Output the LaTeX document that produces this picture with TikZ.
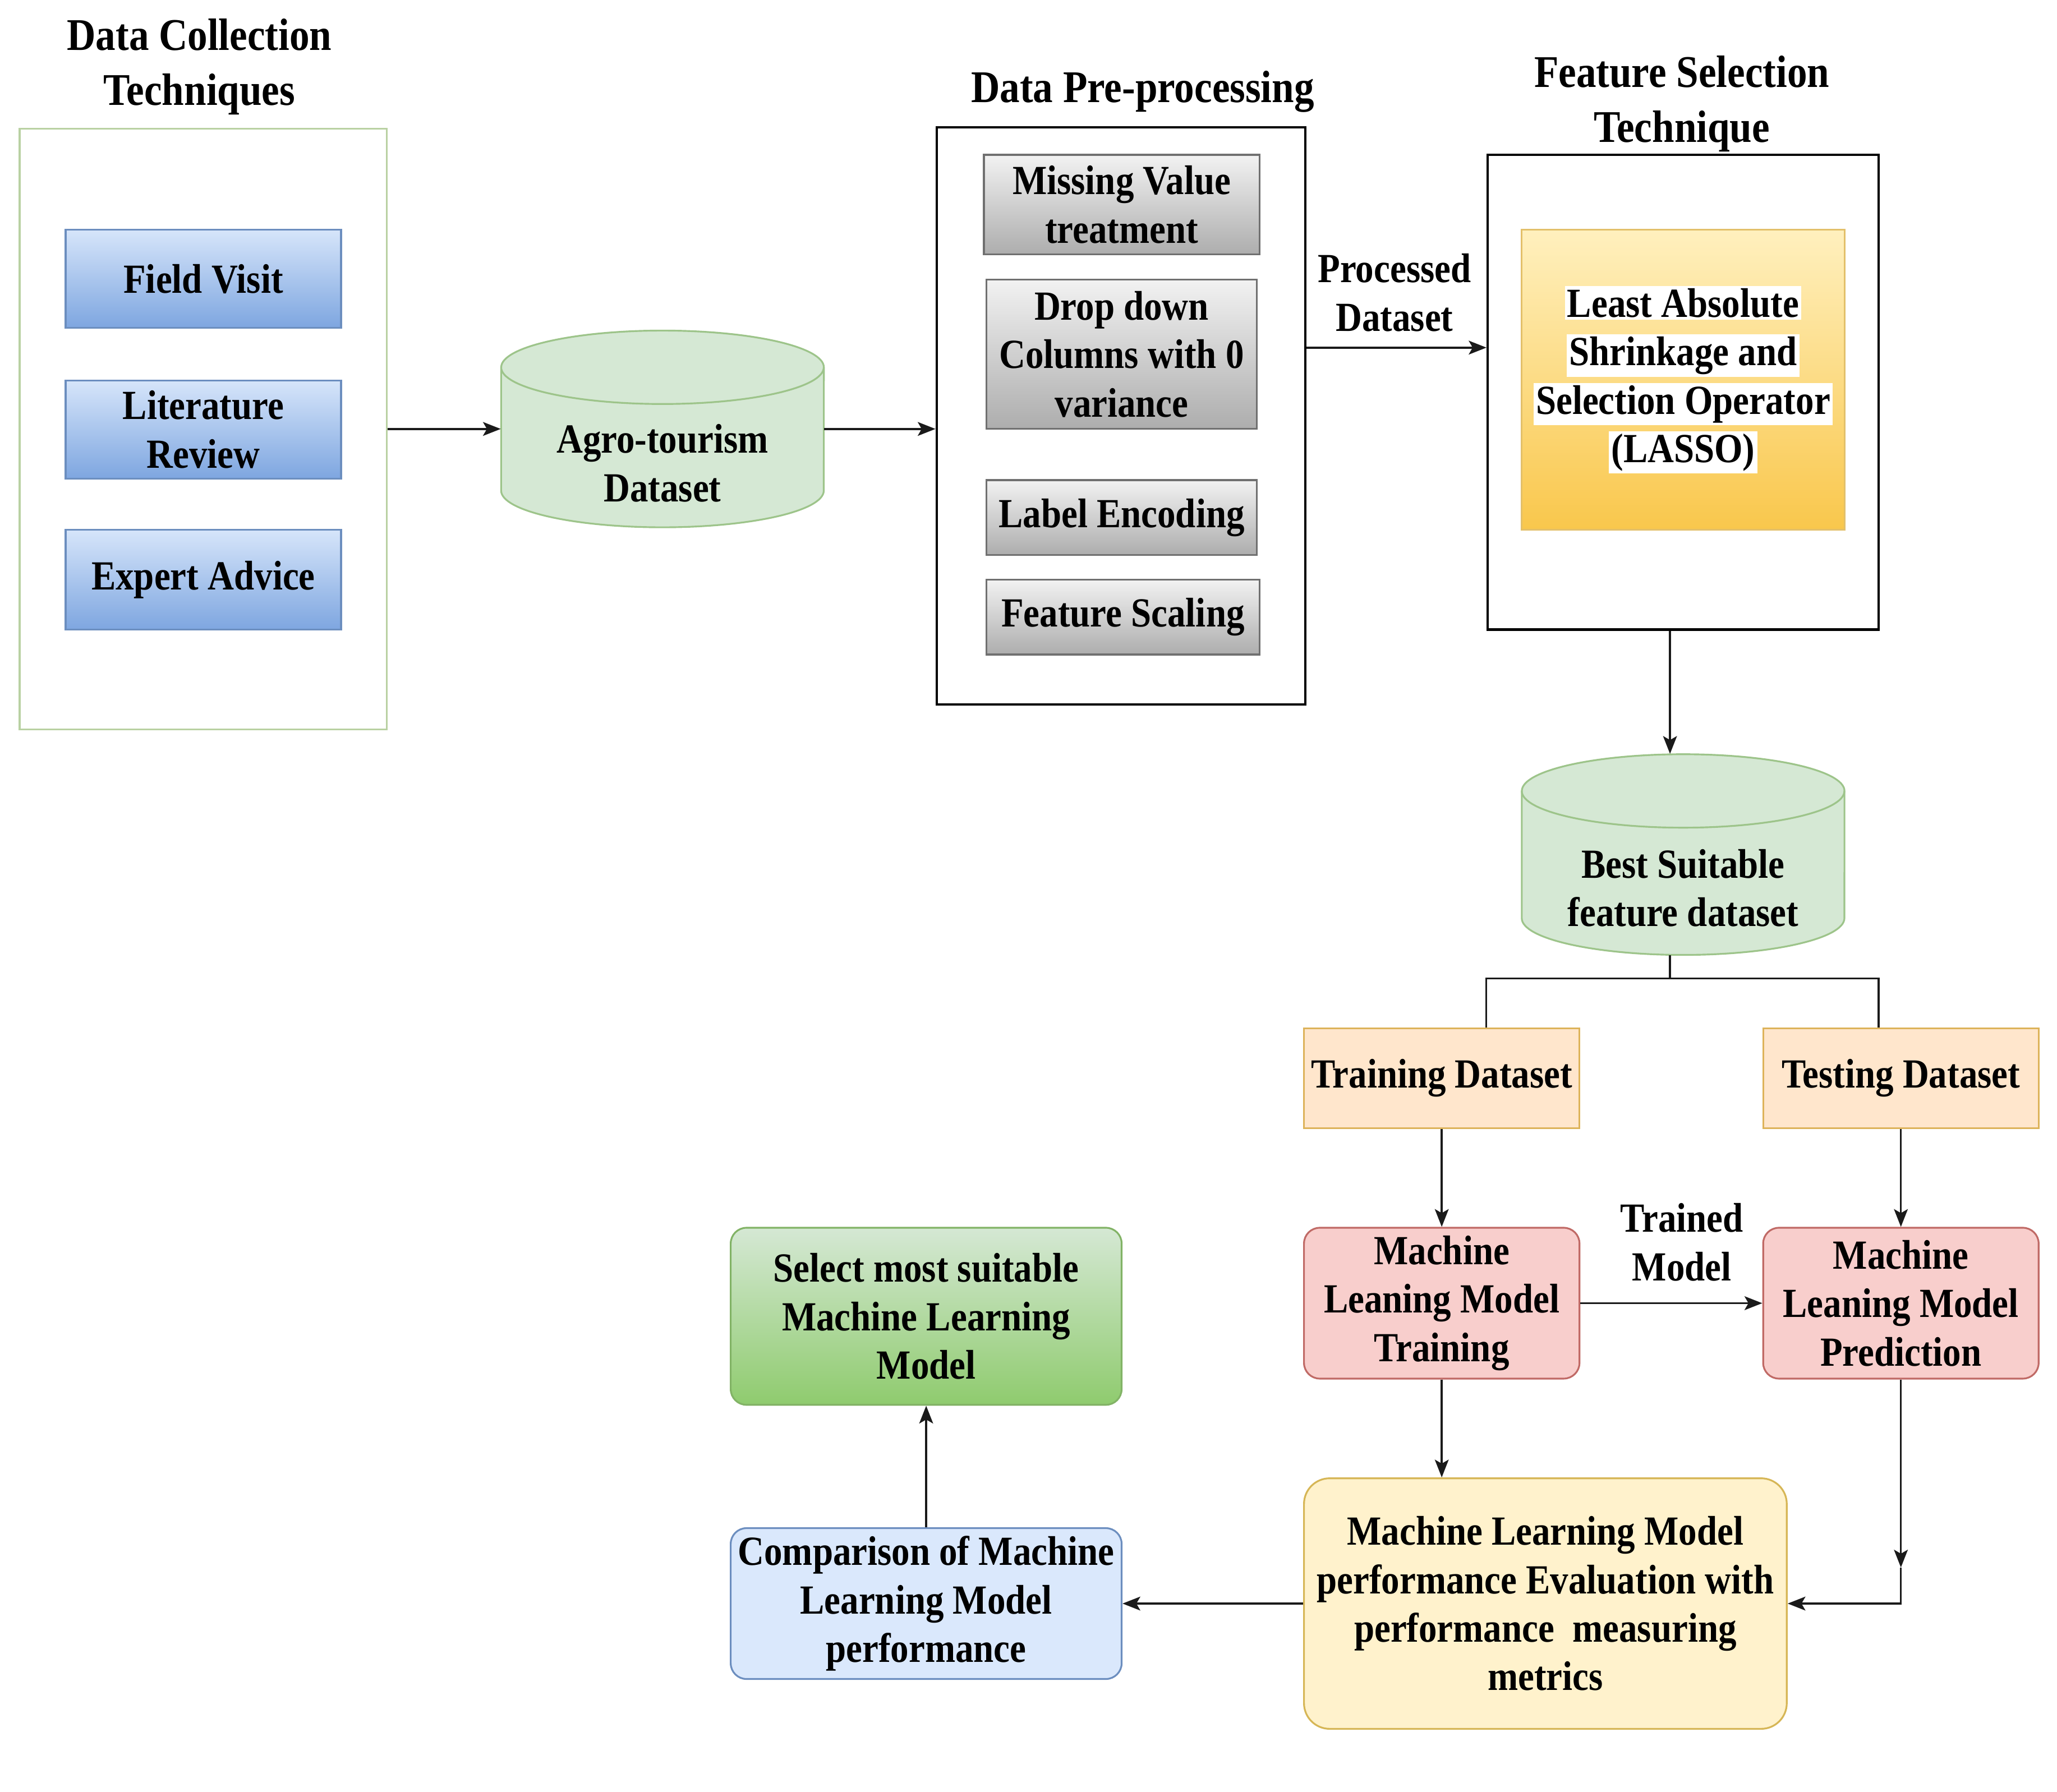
\documentclass[tikz,border=0pt]{standalone}
\usepackage{fontspec}
\setmainfont{Liberation Serif}[FakeStretch=0.88]
\usetikzlibrary{arrows.meta,calc}
\definecolor{dcgreen}{HTML}{B9D1A2}
\definecolor{blueT}{HTML}{D6E5FA}
\definecolor{blueBot}{HTML}{7EA6E0}
\definecolor{blueB}{HTML}{6C8EBF}
\definecolor{grayT}{HTML}{F2F2F2}
\definecolor{grayBot}{HTML}{ADADAD}
\definecolor{grayB}{HTML}{707070}
\definecolor{cylF}{HTML}{D5E8D4}
\definecolor{cylB}{HTML}{9DC48A}
\definecolor{lasT}{HTML}{FFF0BE}
\definecolor{lasBot}{HTML}{F9C74C}
\definecolor{lasB}{HTML}{E3C06A}
\definecolor{peachF}{HTML}{FFE6CC}
\definecolor{peachB}{HTML}{DDB35A}
\definecolor{redF}{HTML}{F8CECC}
\definecolor{redB}{HTML}{C06A66}
\definecolor{yelF}{HTML}{FFF2CC}
\definecolor{yelB}{HTML}{D6B656}
\definecolor{lblueF}{HTML}{DAE8FC}
\definecolor{lblueB}{HTML}{6C8EBF}
\definecolor{grnT}{HTML}{D5E8D4}
\definecolor{grnBot}{HTML}{8FCB6E}
\definecolor{grnB}{HTML}{82B366}
\definecolor{lineC}{HTML}{1A1A1A}
\newcommand\hlw[1]{{\setlength{\fboxsep}{1.2pt}\colorbox{white}{#1}}}
% box from corners: style, name, x0, y0, x1, y1, text
\newcommand\boxat[7]{\node[#1, minimum width={(#5-#3)*0.023386cm}, minimum height={(#6-#4)*0.023386cm}] (#2) at ({(#3+#5)/2},{(#4+#6)/2}) {#7};}
\begin{document}
\begin{tikzpicture}[x=0.023386cm,y=-0.023386cm,
  txt/.style={font=\bfseries\fontsize{21}{24.6}\selectfont, align=center, text=black},
  ttl/.style={font=\bfseries\fontsize{23}{28}\selectfont, align=center, text=black},
  bx/.style={txt, inner sep=0pt, line width=0.9pt},
  blueb/.style={bx, draw=blueB, top color=blueT, bottom color=blueBot},
  grayb/.style={bx, draw=grayB, top color=grayT, bottom color=grayBot},
  peachb/.style={bx, draw=peachB, fill=peachF},
  redb/.style={bx, draw=redB, fill=redF, rounded corners=8pt},
  yelb/.style={bx, draw=yelB, fill=yelF, rounded corners=13pt},
  lblueb/.style={bx, draw=lblueB, fill=lblueF, rounded corners=8pt},
  grnb/.style={bx, draw=grnB, top color=grnT, bottom color=grnBot, rounded corners=8pt},
  frame/.style={inner sep=0pt, line width=1.2pt, draw=black, fill=white},
  dcframe/.style={inner sep=0pt, line width=0.9pt, draw=dcgreen, fill=white},
  hollow/.style={inner sep=0pt},
  cyl/.style={draw=cylB, fill=cylF, line width=0.9pt},
  arr/.style={draw=lineC, line width=1pt, -{Stealth[length=9pt,width=7pt,inset=2pt]}},
  ln/.style={draw=lineC, line width=1pt}
]
\useasboundingbox (0,0) rectangle (1568,1366);

% ---------- Data collection ----------
\node[ttl] (dctitle) at (152,51) {Data Collection\\Techniques};
\boxat{dcframe}{dc}{15}{98}{295}{556}{}
\boxat{blueb}{fv}{50}{175}{260}{250}{Field Visit}
\boxat{blueb}{lr}{50}{290}{260}{365}{Literature\\Review}
\boxat{blueb}{ea}{50}{404}{260}{480}{Expert Advice}

% ---------- Agro-tourism cylinder ----------
\path[cyl] (382,280) -- (382,374)
  arc[start angle=180, end angle=360, x radius=2.8765cm, y radius=0.6548cm]
  -- (628,280)
  arc[start angle=0, end angle=180, x radius=2.8765cm, y radius=0.6548cm] -- cycle;
\draw[draw=cylB, line width=0.9pt] (382,280)
  arc[start angle=180, end angle=360, x radius=2.8765cm, y radius=0.6548cm];
\boxat{hollow}{agro}{382}{252}{628}{402}{}
\node[txt] (agrotext) at (505,353) {Agro-tourism\\Dataset};

% ---------- Pre-processing ----------
\node[ttl] (pretitle) at (871,70) {Data Pre-processing};
\boxat{frame}{pre}{714}{97}{995}{537}{}
\boxat{grayb}{mv}{750}{118}{960}{194}{Missing Value\\treatment}
\boxat{grayb}{dd}{752}{213}{958}{327}{Drop down\\Columns with 0\\variance}
\boxat{grayb}{le}{752}{366}{958}{423}{Label Encoding}
\boxat{grayb}{fsc}{752}{442}{960}{499}{Feature Scaling}

% ---------- Feature selection ----------
\node[ttl] (fstitle) at (1282,79) {Feature Selection\\Technique};
\boxat{frame}{fs}{1134}{118}{1432}{480}{}
\boxat{bx, draw=lasB, top color=lasT, bottom color=lasBot}{lasso}{1160}{175}{1406}{404}%
  {\hlw{Least Absolute}\\\hlw{Shrinkage and}\\\hlw{Selection Operator}\\\hlw{(LASSO)}}
\node[txt] (pdlabel) at (1063,223) {Processed\\Dataset};

% ---------- Best suitable cylinder ----------
\path[cyl] (1160,603) -- (1160,700)
  arc[start angle=180, end angle=360, x radius=2.8765cm, y radius=0.6548cm]
  -- (1406,603)
  arc[start angle=0, end angle=180, x radius=2.8765cm, y radius=0.6548cm] -- cycle;
\draw[draw=cylB, line width=0.9pt] (1160,603)
  arc[start angle=180, end angle=360, x radius=2.8765cm, y radius=0.6548cm];
\boxat{hollow}{best}{1160}{575}{1406}{728}{}
\node[txt] (besttext) at (1283,677) {Best Suitable\\feature dataset};

% ---------- Lower part ----------
\boxat{peachb}{train}{994}{784}{1204}{860}{Training Dataset}
\boxat{peachb}{test}{1344}{784}{1554}{860}{Testing Dataset}
\boxat{redb}{mlt}{994}{936}{1204}{1051}{Machine\\Leaning Model\\Training}
\boxat{redb}{mlp}{1344}{936}{1554}{1051}{Machine\\Leaning Model\\Prediction}
\node[txt] (tmlabel) at (1282,947) {Trained\\Model};
\boxat{yelb}{eval}{994}{1127}{1362}{1318}{Machine Learning Model\\performance Evaluation with\\performance\ \ measuring\\metrics}
\boxat{lblueb}{comp}{557}{1165}{855}{1280}{Comparison of Machine\\Learning Model\\performance}
\boxat{grnb}{sel}{557}{936}{855}{1071}{Select most suitable\\Machine Learning\\Model}

% ---------- Connectors ----------
\coordinate (pd) at (0,265);
\coordinate (split) at (1273,746);
\coordinate (trx) at (1133,0);
\coordinate (tex) at (1432,0);
\coordinate (mid) at (1449,1195);

\draw[arr] (dc.east) -- (agro.west);
\draw[arr] (agro.east) -- (agro.east -| pre.west);
\draw[arr] (pre.east |- pd) -- (fs.west |- pd);
\draw[arr] (fs.south -| split) -- (best.north -| split);
\draw[ln] (best.south -| split) -- (split);
\draw[ln] (split) -- (split -| trx) -- (train.north -| trx);
\draw[ln] (split) -- (split -| tex) -- (test.north -| tex);
\draw[arr] (train.south) -- (mlt.north);
\draw[arr] (test.south) -- (mlp.north);
\draw[arr] (mlt.east) -- (mlp.west);
\draw[arr] (mlt.south) -- (mlt.south |- eval.north);
\draw[arr] (mlp.south) -- (mlp.south |- mid);
\draw[arr] (mlp.south |- mid) -- (mlp.south |- eval.east) -- (eval.east);
\draw[arr] (eval.west) -- (comp.east);
\draw[arr] (comp.north) -- (sel.south);
\end{tikzpicture}
\end{document}
